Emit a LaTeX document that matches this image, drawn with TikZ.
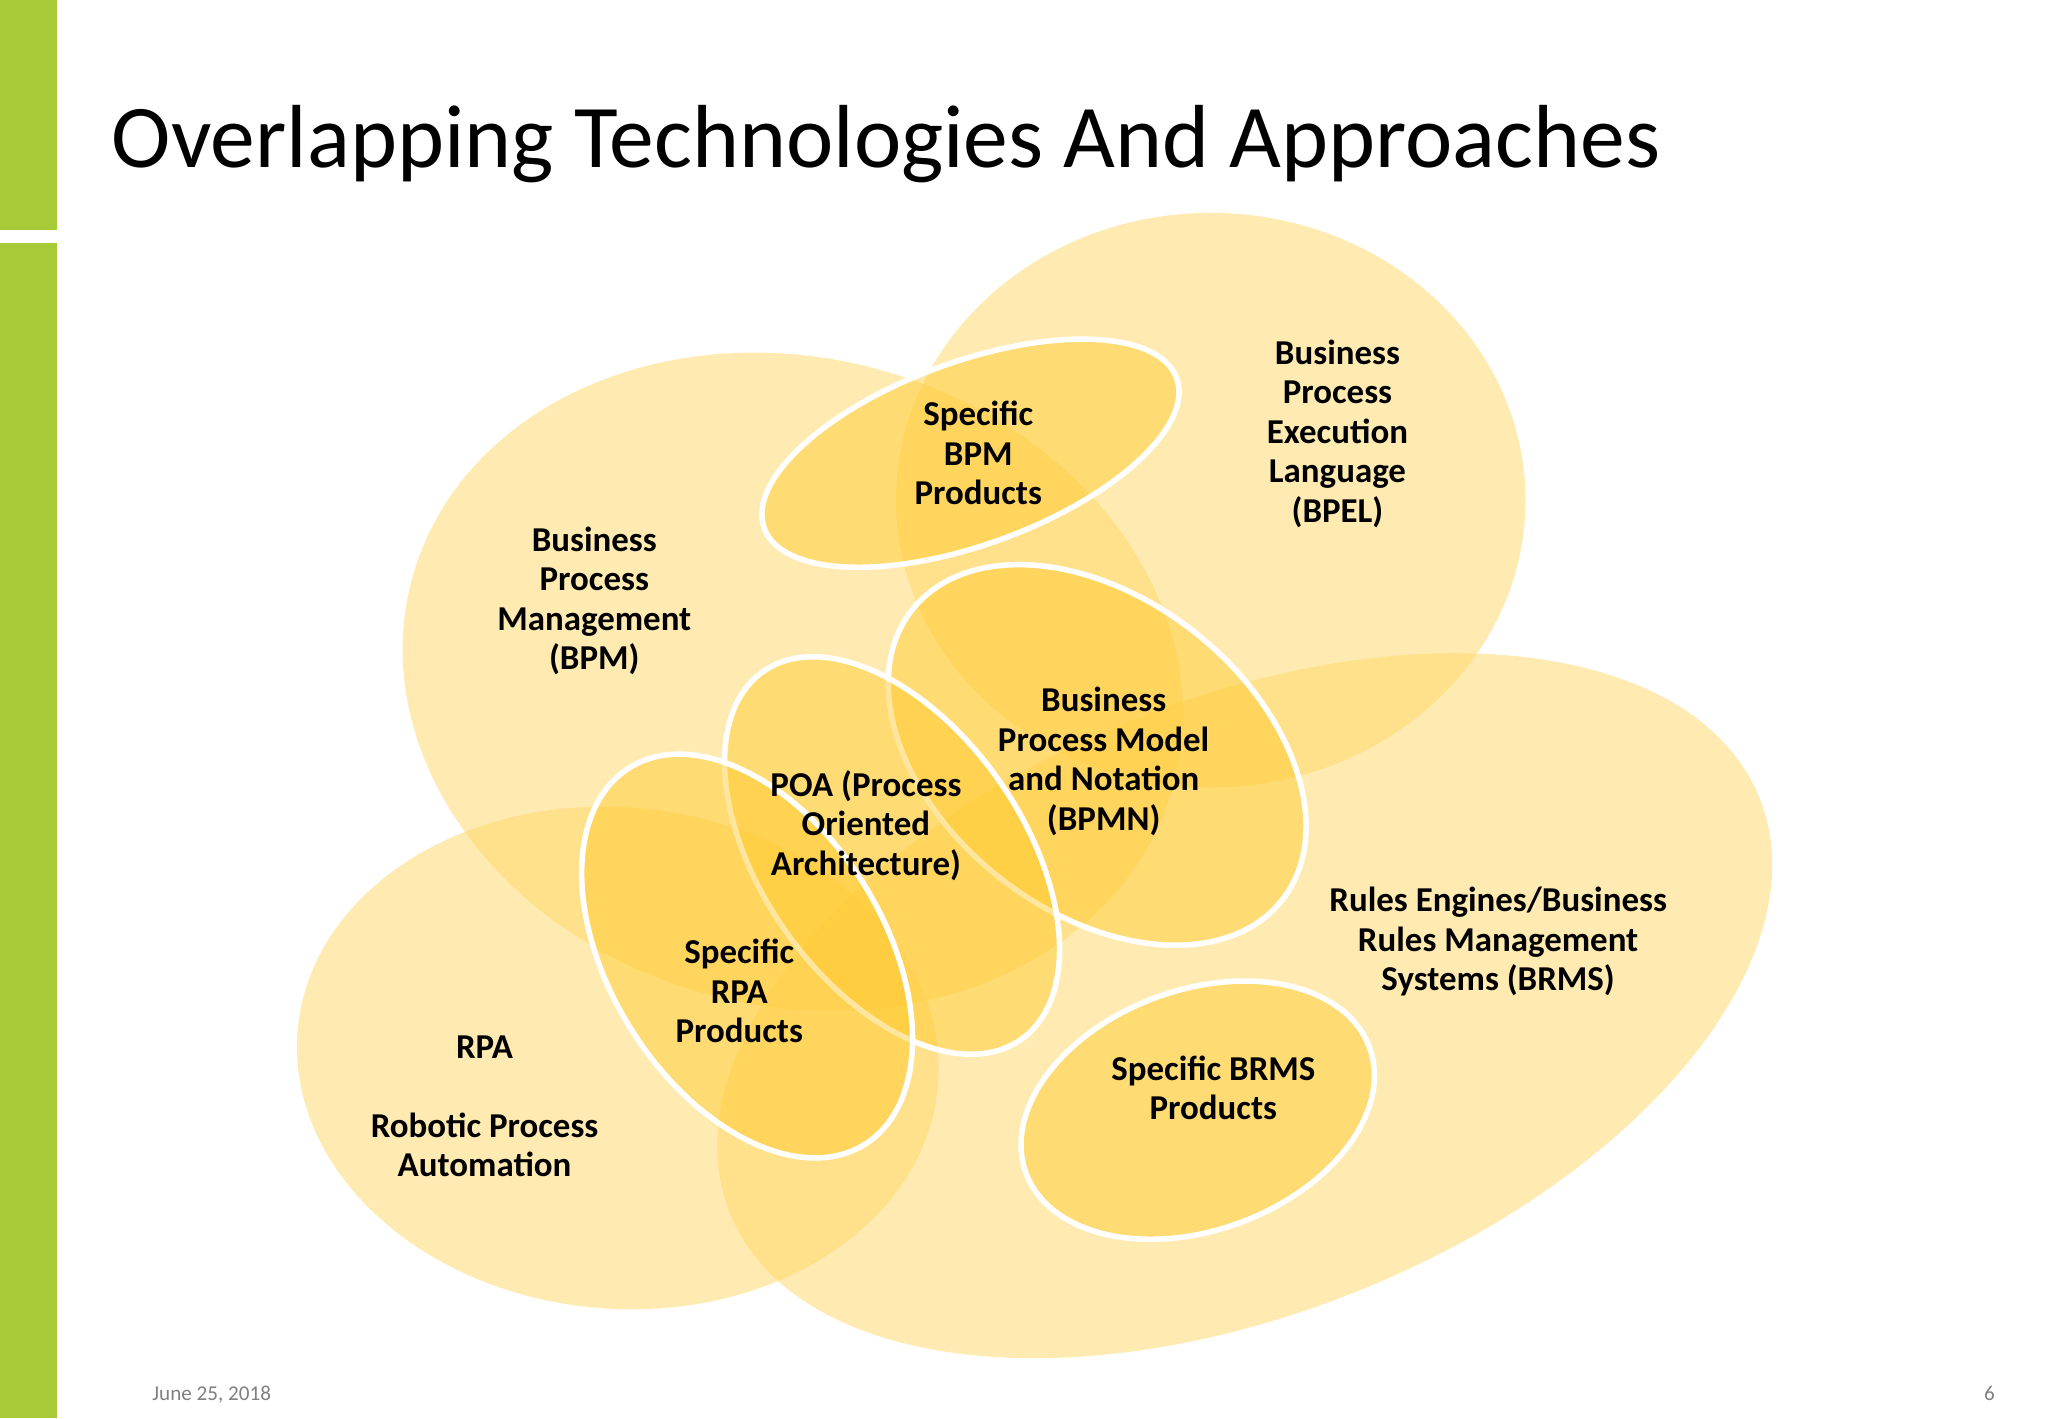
\documentclass[tikz,border=0pt]{standalone}
\usepackage{fontspec}
\setmainfont{Carlito}
\definecolor{gbar}{RGB}{166,202,56}
\definecolor{ybig}{RGB}{255,217,102}
\definecolor{ysmall}{RGB}{255,200,40}
\begin{document}
\begin{tikzpicture}[x=0.01cm,y=-0.01cm,
  big/.style={fill=ybig,fill opacity=0.5},
  small/.style={fill=ysmall,fill opacity=0.45,draw=white,line width=1.2pt,draw opacity=1},
  lbl/.style={font=\bfseries\fontsize{7.6}{8.6}\selectfont,align=center,text=black}]
\useasboundingbox (0,0) rectangle (1568,1086);
\fill[white] (0,0) rectangle (1568,1086);
\fill[gbar] (0,0) rectangle (44,176);
\fill[gbar] (0,186) rectangle (44,1086);
\node[anchor=base west,inner sep=0,font=\fontsize{19.5}{22}\selectfont] (title) at (85,128) {Overlapping Technologies And Approaches};
% big ellipses
\path[big] (607,522) ellipse[x radius=302,y radius=248,rotate=-15];
\path[big] (927,383) ellipse[x radius=241,y radius=220];
\path[big] (953,770) ellipse[x radius=425,y radius=235,rotate=22];
\path[big] (473,810) ellipse[x radius=246,y radius=192,rotate=-5];
% small ellipses
\path[small] (743,347) ellipse[x radius=168,y radius=70,rotate=20];
\path[small] (840,578) ellipse[x radius=180,y radius=120,rotate=-38];
\path[small] (683,655) ellipse[x radius=172,y radius=100,rotate=-55];
\path[small] (572,732) ellipse[x radius=170,y radius=105,rotate=-58];
\path[small] (917,850) ellipse[x radius=140,y radius=92,rotate=20];
% labels
\node[lbl] (bpm) at (455,460) {Business\\Process\\Management\\(BPM)};
\node[lbl] (sbpm) at (749,347) {Specific\\BPM\\Products};
\node[lbl] (bpel) at (1024,332) {Business\\Process\\Execution\\Language\\(BPEL)};
\node[lbl] (bpmn) at (845,583) {Business\\Process Model\\and Notation\\(BPMN)};
\node[lbl] (poa) at (663,632) {POA (Process\\Oriented\\Architecture)};
\node[lbl] (brms) at (1147,721) {Rules Engines/Business\\Rules Management\\Systems (BRMS)};
\node[lbl] (srpa) at (566,759) {Specific\\RPA\\Products};
\node[lbl] (rpa) at (371,847) {RPA\\[\baselineskip]Robotic Process\\Automation};
\node[lbl] (sbrms) at (929,833) {Specific BRMS\\Products};
\node[anchor=base west,inner sep=0,text=gray,font=\fontsize{4.6}{5}\selectfont] (date) at (116,1072) {June 25, 2018};
\node[anchor=base east,inner sep=0,text=gray,font=\fontsize{4.6}{5}\selectfont] (pg) at (1528,1072) {6};
\end{tikzpicture}
\end{document}
